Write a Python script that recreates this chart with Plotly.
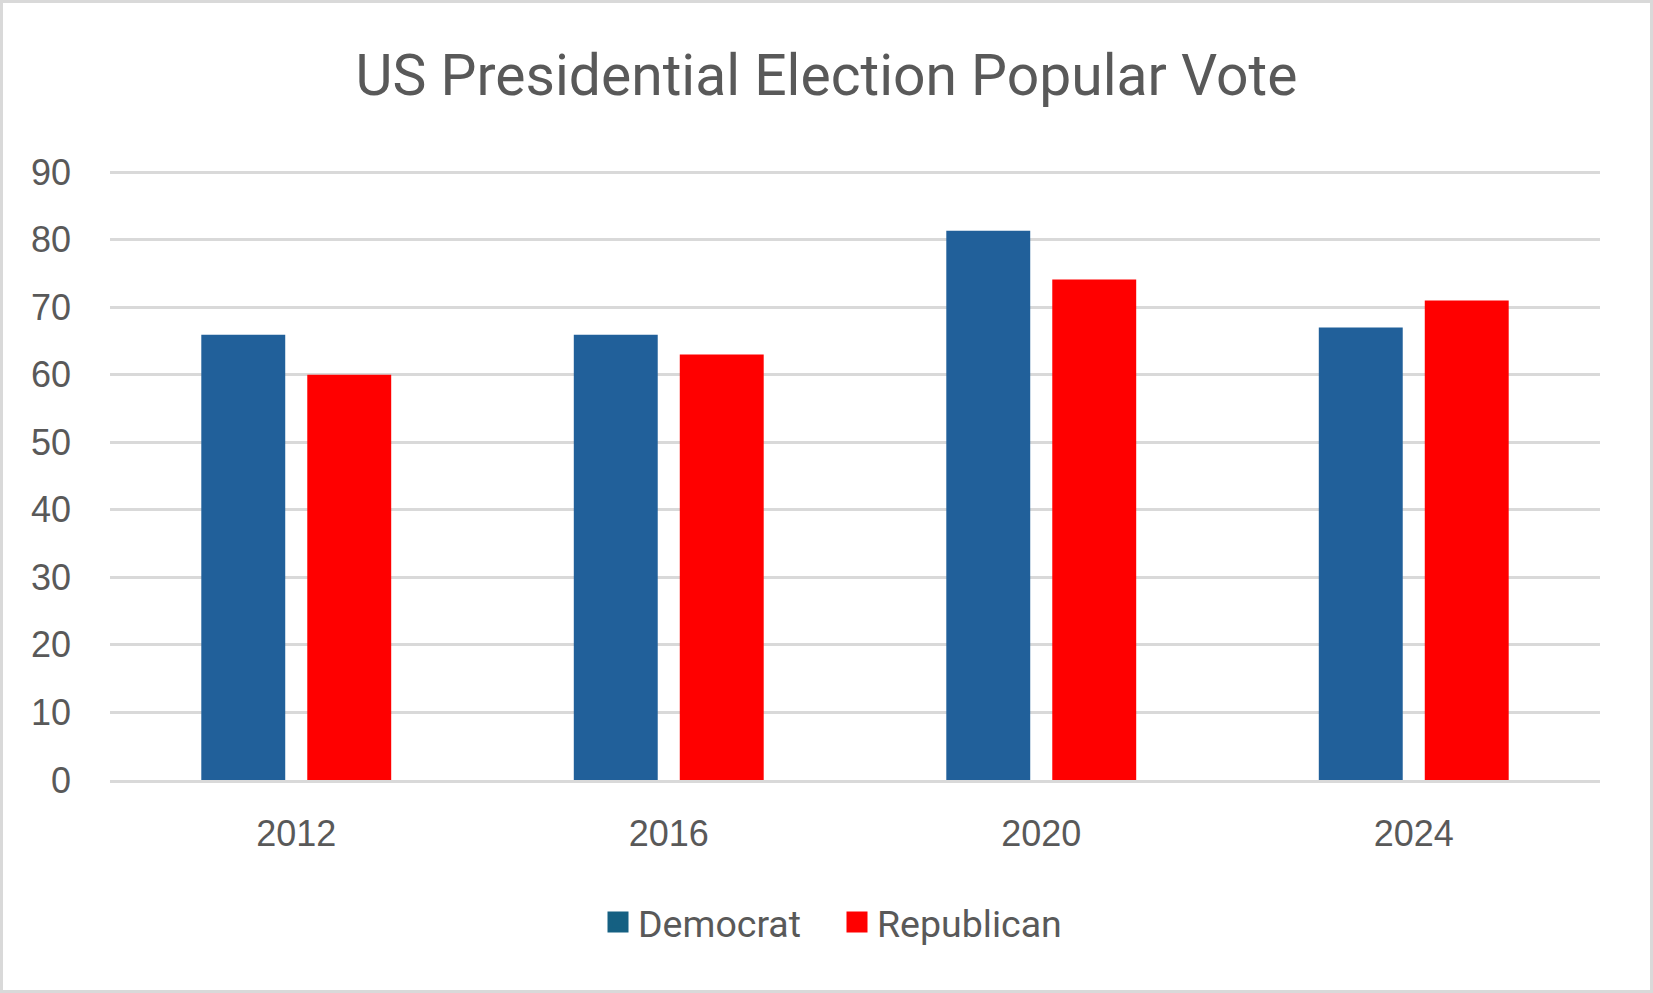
import plotly.graph_objects as go

years = ["2012", "2016", "2020", "2024"]
democrat = [65.9, 65.9, 81.3, 67.0]
republican = [60.0, 63.0, 74.1, 71.0]
y_ticks = [0, 10, 20, 30, 40, 50, 60, 70, 80, 90]

W, H = 1653, 993
L, R, T, B = 110, 53, 170, 213

DEM_BAR = "#21609A"
DEM_SWATCH = "#156082"
REP = "#FF0000"
TXT = "#595959"
GRID = "#D9D9D9"
TITLE_FONT = "Roboto"
TICK_FONT = "Liberation Sans"

fig = go.Figure()
fig.add_trace(go.Bar(x=years, y=democrat, name="Democrat", marker_color=DEM_BAR,
                     marker_line_width=0, offsetgroup="D", showlegend=False))
fig.add_trace(go.Bar(x=years, y=republican, name="Republican", marker_color=REP,
                     marker_line_width=0, offsetgroup="R", showlegend=False))
# legend entries
fig.add_trace(go.Scatter(x=[None], y=[None], mode="markers", name="Democrat",
                         marker=dict(symbol="square", size=16, color=DEM_SWATCH,
                                     line=dict(color=DEM_SWATCH, width=5))))
fig.add_trace(go.Scatter(x=[None], y=[None], mode="markers", name="Republican",
                         marker=dict(symbol="square", size=16, color=REP,
                                     line=dict(color=REP, width=5))))

fig.update_layout(
    width=W, height=H,
    margin=dict(l=L, r=R, t=T, b=B, pad=0),
    paper_bgcolor="white", plot_bgcolor="white",
    barmode="group", bargap=0.431, bargroupgap=0.208,
    title=dict(text="US Presidential Election Popular Vote",
               font=dict(family=TITLE_FONT, size=57, color=TXT),
               x=0.5, xanchor="center", xref="container",
               y=1 - 75 / H, yanchor="middle", yref="container"),
    showlegend=True,
    legend=dict(orientation="h", x=(598 - L) / (W - L - R), xanchor="left",
                y=-(922 - (H - B)) / (H - T - B), yanchor="middle",
                entrywidth=194, entrywidthmode="pixels",
                font=dict(family=TITLE_FONT, size=37.5, color=TXT),
                bgcolor="rgba(0,0,0,0)", itemclick=False),
    xaxis=dict(type="category", showgrid=False, showline=True, linecolor=GRID, linewidth=3,
               ticks="", ticklabelstandoff=20,
               tickfont=dict(family=TICK_FONT, size=36, color=TXT), fixedrange=True),
    yaxis=dict(range=[0, 90.3], tickvals=y_ticks, showgrid=True, gridcolor=GRID, gridwidth=3,
               zeroline=False, showline=False, ticks="", ticklabelstandoff=38,
               tickfont=dict(family=TICK_FONT, size=36, color=TXT), fixedrange=True),
    shapes=[dict(type="rect", xref="paper", yref="paper",
                 x0=-(L - 1.5) / (W - L - R), x1=1 + (R - 1.5) / (W - L - R),
                 y0=-(B - 1.5) / (H - T - B), y1=1 + (T - 1.5) / (H - T - B),
                 line=dict(color=GRID, width=3), fillcolor="rgba(0,0,0,0)", layer="below")],
)

fig.write_html("out.html", config={"displayModeBar": False},
               post_script="document.body.style.margin='0';document.body.style.overflow='hidden';")
